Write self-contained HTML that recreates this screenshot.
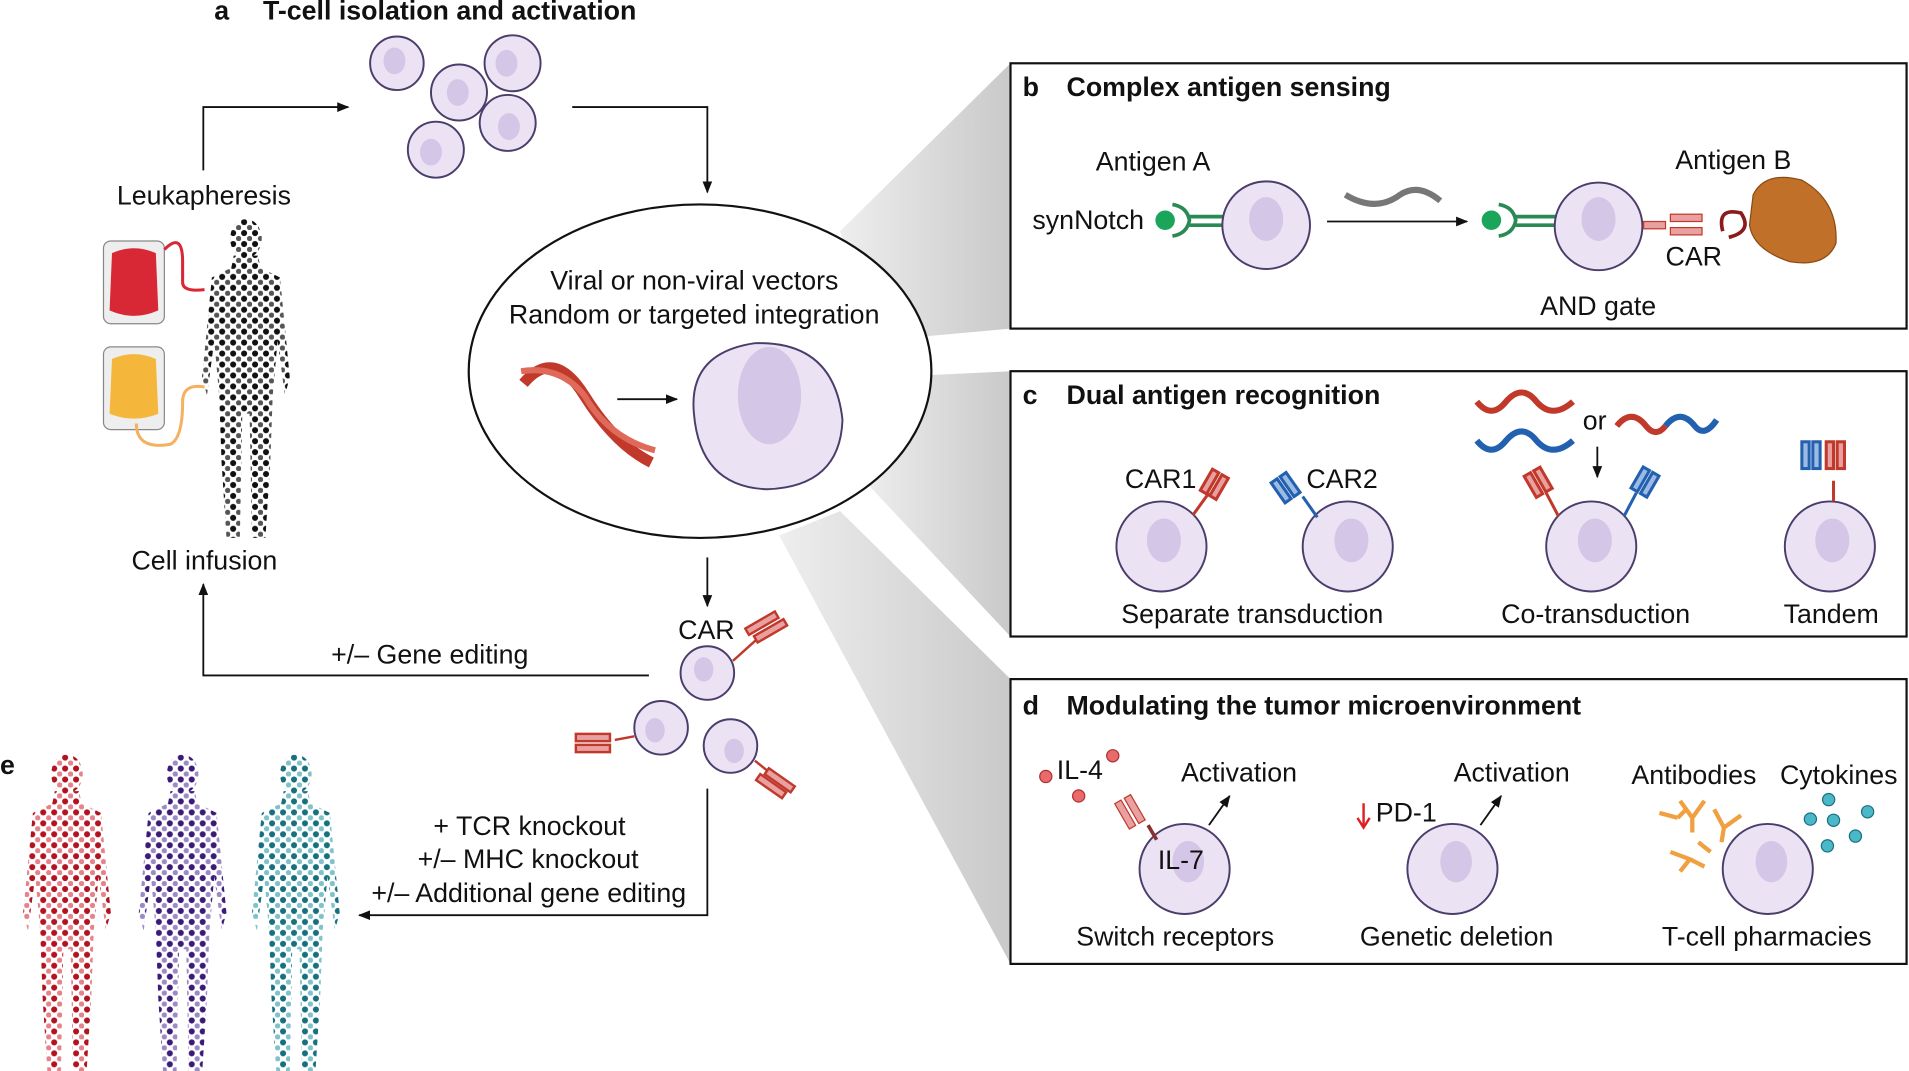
<!DOCTYPE html>
<html><head><meta charset="utf-8"><style>
html,body{margin:0;padding:0;background:#fff;width:1909px;height:1071px;overflow:hidden}
svg{display:block}
text{font-family:"Liberation Sans",Arial,sans-serif;fill:#111}
.t{font-size:22px}
.b{font-size:22px;font-weight:bold}
.cell{fill:#ebe3f3;stroke:#4b3d6b;stroke-width:1.6}
.nuc{fill:#d3c6e6}
.ln{stroke:#111;stroke-width:1.5;fill:none}
</style></head><body>
<svg width="1909" height="1071" viewBox="0 0 1568 880" preserveAspectRatio="none" xmlns="http://www.w3.org/2000/svg">
<defs>
<marker id="ar" markerWidth="10" markerHeight="10" refX="9" refY="5" orient="auto" markerUnits="userSpaceOnUse"><path d="M0,1 L10,5 L0,9 Z" fill="#111"/></marker>
<pattern id="pk" width="9" height="9" patternUnits="userSpaceOnUse"><rect width="9" height="9" fill="#fff"/><circle cx="2.5" cy="2.5" r="2.5" fill="#111"/><circle cx="7" cy="7" r="2.2" fill="#555"/></pattern>
<pattern id="pr" width="9" height="9" patternUnits="userSpaceOnUse"><rect width="9" height="9" fill="#fff"/><circle cx="2.5" cy="2.5" r="2.5" fill="#b3121f"/><circle cx="7" cy="7" r="2.2" fill="#e5828a"/></pattern>
<pattern id="pp" width="9" height="9" patternUnits="userSpaceOnUse"><rect width="9" height="9" fill="#fff"/><circle cx="2.5" cy="2.5" r="2.5" fill="#3b1a78"/><circle cx="7" cy="7" r="2.2" fill="#9b8ac4"/></pattern>
<pattern id="pt" width="9" height="9" patternUnits="userSpaceOnUse"><rect width="9" height="9" fill="#fff"/><circle cx="2.5" cy="2.5" r="2.5" fill="#16707d"/><circle cx="7" cy="7" r="2.2" fill="#7fc2c9"/></pattern>
<linearGradient id="wg" x1="0" x2="1"><stop offset="0" stop-color="#eee"/><stop offset="1" stop-color="#c9c9c9"/></linearGradient>
<g id="hum"><ellipse cx="40" cy="16" rx="13" ry="16"/><path d="M30,30 L50,30 L52,40 L68,48 L76,130 L72,145 L66,100 L62,145 L60,200 L56,262 L45,262 L43,160 L37,160 L35,262 L24,262 L20,200 L18,145 L14,100 L8,145 L4,130 L12,48 L28,40 Z"/></g>
</defs>

<polygon points="690,190 830,52 830,270 720,280" fill="url(#wg)"/>
<polygon points="725,310 830,305 830,523 710,395" fill="url(#wg)"/>
<polygon points="690,420 830,558 830,792 640,440" fill="url(#wg)"/>

<text x="176" y="16" class="b">a</text><text x="216" y="16" class="b">T-cell isolation and activation</text>
<g>
<circle cx="326" cy="52" r="22" class="cell"/><ellipse cx="324" cy="50" rx="9" ry="11" class="nuc"/>
<circle cx="421" cy="52" r="23" class="cell"/><ellipse cx="416" cy="52" rx="9" ry="11" class="nuc"/>
<circle cx="377" cy="76" r="23" class="cell"/><ellipse cx="376" cy="76" rx="9" ry="11" class="nuc"/>
<circle cx="417" cy="101" r="23" class="cell"/><ellipse cx="418" cy="104" rx="9" ry="11" class="nuc"/>
<circle cx="358" cy="123" r="23" class="cell"/><ellipse cx="354" cy="125" rx="9" ry="11" class="nuc"/>
</g>
<path d="M167,140 L167,88 L286,88" class="ln" marker-end="url(#ar)"/>
<path d="M470,88 L581,88 L581,158" class="ln" marker-end="url(#ar)"/>
<text x="96" y="168" class="t">Leukapheresis</text>
<use href="#hum" x="162" y="180" fill="url(#pk)"/>
<rect x="85" y="198" width="50" height="68" rx="6" fill="#eee" stroke="#888"/>
<path d="M92,208 Q110,200 128,208 L130,255 Q110,264 90,255 Z" fill="#d92835"/>
<path d="M135,205 Q150,190 150,215 L150,232 Q150,240 168,238" stroke="#d92835" stroke-width="2.5" fill="none"/>
<rect x="85" y="285" width="50" height="68" rx="6" fill="#eee" stroke="#888"/>
<path d="M92,295 Q110,287 128,295 L130,340 Q110,348 90,340 Z" fill="#f5b73b"/>
<path d="M112,348 Q112,370 140,365 Q150,360 150,330 Q150,315 168,318" stroke="#f5b060" stroke-width="2.5" fill="none"/>
<text x="108" y="468" class="t">Cell infusion</text>
<path d="M533,555 L167,555 L167,480" class="ln" marker-end="url(#ar)"/>
<text x="272" y="545" class="t">+/– Gene editing</text>

<ellipse cx="575" cy="305" rx="190" ry="137" fill="#fff" stroke="#111" stroke-width="1.8"/>
<text x="452" y="238" class="t">Viral or non-viral vectors</text>
<text x="418" y="266" class="t">Random or targeted integration</text>
<path d="M430,315 Q455,285 480,325 Q505,365 535,380" stroke="#c0392b" stroke-width="9" fill="none"/>
<path d="M428,305 Q460,300 480,325 Q500,360 538,370" stroke="#e06a5a" stroke-width="5" fill="none"/>
<path d="M507,328 L556,328" class="ln" marker-end="url(#ar)"/>
<path d="M570,340 Q565,290 620,282 Q685,280 692,345 Q690,400 630,402 Q575,400 570,340Z" class="cell"/>
<ellipse cx="632" cy="325" rx="26" ry="40" class="nuc"/>
<path d="M581,458 L581,498" class="ln" marker-end="url(#ar)"/>
<text x="557" y="525" class="t">CAR</text>
<circle cx="581" cy="553" r="22" class="cell"/><ellipse cx="578" cy="550" rx="8" ry="10" class="nuc"/>
<circle cx="543" cy="598" r="22" class="cell"/><ellipse cx="538" cy="600" rx="8" ry="10" class="nuc"/>
<circle cx="600" cy="613" r="22" class="cell"/><ellipse cx="603" cy="617" rx="8" ry="10" class="nuc"/>
<g stroke="#c0392b" stroke-width="2" fill="#e8a0a0">
<path d="M602,543 L622,525"/><rect x="615" y="513" width="28" height="6" transform="rotate(-30 620 520)"/><rect x="618" y="522" width="28" height="6" transform="rotate(-30 620 520)"/>
<path d="M521,605 L505,608"/><rect x="473" y="603" width="28" height="6"/><rect x="473" y="612" width="28" height="6"/>
<path d="M620,625 L635,637"/><rect x="630" y="632" width="26" height="6" transform="rotate(35 632 634)"/><rect x="627" y="640" width="26" height="6" transform="rotate(35 632 634)"/>
</g>
<path d="M581,648 L581,752 L295,752" class="ln" marker-end="url(#ar)"/>
<text x="356" y="686" class="t">+ TCR knockout</text>
<text x="343" y="713" class="t">+/– MHC knockout</text>
<text x="305" y="741" class="t">+/– Additional gene editing</text>

<text x="0" y="636" class="b">e</text>
<use href="#hum" x="15" y="620" fill="url(#pr)"/>
<use href="#hum" x="110" y="620" fill="url(#pp)"/>
<use href="#hum" x="203" y="620" fill="url(#pt)"/>

<rect x="830" y="52" width="736" height="218" fill="#fff" stroke="#111" stroke-width="1.8"/>
<text x="840" y="79" class="b">b</text><text x="876" y="79" class="b">Complex antigen sensing</text>
<text x="900" y="140" class="t">Antigen A</text>
<text x="848" y="188" class="t">synNotch</text>
<circle cx="957" cy="181" r="8" fill="#1aa55a"/>
<path d="M963,168 Q975,170 977,181 Q975,192 963,194 M977,178 L1005,178 M977,185 L1005,185" stroke="#2a8a55" stroke-width="3" fill="none"/>
<circle cx="1040" cy="185" r="36" class="cell"/><ellipse cx="1040" cy="180" rx="14" ry="18" class="nuc"/>
<path d="M1105,160 Q1130,175 1150,160 Q1165,150 1183,165" stroke="#777" stroke-width="5" fill="none"/>
<path d="M1090,182 L1205,182" class="ln" marker-end="url(#ar)"/>
<circle cx="1225" cy="181" r="8" fill="#1aa55a"/>
<path d="M1231,168 Q1243,170 1245,181 Q1243,192 1231,194 M1245,178 L1278,178 M1245,185 L1278,185" stroke="#2a8a55" stroke-width="3" fill="none"/>
<circle cx="1313" cy="186" r="36" class="cell"/><ellipse cx="1313" cy="180" rx="14" ry="18" class="nuc"/>
<rect x="1350" y="182" width="18" height="6" fill="#e8a0a0" stroke="#c0392b"/>
<rect x="1372" y="176" width="26" height="6" fill="#e8a0a0" stroke="#c0392b"/><rect x="1372" y="187" width="26" height="6" fill="#e8a0a0" stroke="#c0392b"/>
<path d="M1415,190 Q1410,170 1430,175 Q1440,190 1420,195" stroke="#8b1a1a" stroke-width="3" fill="none"/>
<path d="M1440,160 Q1450,140 1480,148 Q1510,165 1508,200 Q1500,220 1470,215 Q1440,205 1437,185 Z" fill="#c07028" stroke="#8a4a14"/>
<text x="1376" y="139" class="t">Antigen B</text>
<text x="1368" y="218" class="t">CAR</text>
<text x="1265" y="259" class="t">AND gate</text>

<rect x="830" y="305" width="736" height="218" fill="#fff" stroke="#111" stroke-width="1.8"/>
<text x="840" y="332" class="b">c</text><text x="876" y="332" class="b">Dual antigen recognition</text>
<g stroke-width="5" fill="none">
<path d="M1213,330 Q1225,345 1237,330 Q1250,315 1262,330 Q1275,345 1292,330" stroke="#c0392b"/>
<path d="M1213,362 Q1225,377 1237,362 Q1250,347 1262,362 Q1275,377 1292,362" stroke="#2360b0"/>
<path d="M1328,350 Q1340,335 1352,350 Q1360,360 1368,350" stroke="#c0392b"/>
<path d="M1368,350 Q1380,335 1392,350 Q1400,360 1410,345" stroke="#2360b0"/>
</g>
<text x="1300" y="353" class="t">or</text>
<path d="M1312,367 L1312,392" class="ln" marker-end="url(#ar)"/>
<text x="924" y="401" class="t">CAR1</text>
<text x="1073" y="401" class="t">CAR2</text>
<circle cx="954" cy="449" r="37" class="cell"/><ellipse cx="956" cy="444" rx="14" ry="18" class="nuc"/>
<circle cx="1107" cy="449" r="37" class="cell"/><ellipse cx="1110" cy="444" rx="14" ry="18" class="nuc"/>
<circle cx="1307" cy="449" r="37" class="cell"/><ellipse cx="1310" cy="444" rx="14" ry="18" class="nuc"/>
<circle cx="1503" cy="449" r="37" class="cell"/><ellipse cx="1505" cy="444" rx="14" ry="18" class="nuc"/>
<g stroke-width="2.5">
<path d="M980,423 L993,405" stroke="#c0392b"/><rect x="988" y="385" width="6" height="20" fill="#e8a0a0" stroke="#c0392b" transform="rotate(30 991 400)"/><rect x="997" y="385" width="6" height="20" fill="#e8a0a0" stroke="#c0392b" transform="rotate(30 991 400)"/>
<path d="M1082,425 L1070,408" stroke="#2360b0"/><rect x="1052" y="388" width="6" height="20" fill="#9bbbe5" stroke="#2360b0" transform="rotate(-35 1062 405)"/><rect x="1061" y="388" width="6" height="20" fill="#9bbbe5" stroke="#2360b0" transform="rotate(-35 1062 405)"/>
<path d="M1280,424 L1270,405" stroke="#c0392b"/><rect x="1258" y="386" width="6" height="20" fill="#e8a0a0" stroke="#c0392b" transform="rotate(-30 1265 400)"/><rect x="1267" y="386" width="6" height="20" fill="#e8a0a0" stroke="#c0392b" transform="rotate(-30 1265 400)"/>
<path d="M1334,424 L1344,405" stroke="#2360b0"/><rect x="1341" y="384" width="6" height="20" fill="#9bbbe5" stroke="#2360b0" transform="rotate(30 1346 400)"/><rect x="1350" y="384" width="6" height="20" fill="#9bbbe5" stroke="#2360b0" transform="rotate(30 1346 400)"/>
<path d="M1506,412 L1506,395" stroke="#c0392b"/>
<rect x="1480" y="363" width="6" height="22" fill="#9bbbe5" stroke="#2360b0"/><rect x="1489" y="363" width="6" height="22" fill="#9bbbe5" stroke="#2360b0"/>
<rect x="1500" y="363" width="6" height="22" fill="#e8a0a0" stroke="#c0392b"/><rect x="1509" y="363" width="6" height="22" fill="#e8a0a0" stroke="#c0392b"/>
</g>
<text x="921" y="512" class="t">Separate transduction</text>
<text x="1233" y="512" class="t">Co-transduction</text>
<text x="1465" y="512" class="t">Tandem</text>

<rect x="830" y="558" width="736" height="234" fill="#fff" stroke="#111" stroke-width="1.8"/>
<text x="840" y="587" class="b">d</text><text x="876" y="587" class="b">Modulating the tumor microenvironment</text>
<circle cx="859" cy="638" r="5" fill="#e86a6a" stroke="#b03030"/>
<circle cx="914" cy="621" r="5" fill="#e86a6a" stroke="#b03030"/>
<circle cx="886" cy="654" r="5" fill="#e86a6a" stroke="#b03030"/>
<text x="868" y="640" class="t">IL-4</text>
<text x="970" y="642" class="t">Activation</text>
<path d="M993,678 L1010,654" class="ln" marker-end="url(#ar)"/>
<circle cx="973" cy="714" r="37" class="cell"/><ellipse cx="976" cy="708" rx="13" ry="17" class="nuc"/>
<path d="M950,690 L943,678" stroke="#8b3030" stroke-width="3"/>
<rect x="923" y="652" width="6" height="24" fill="#e8a0a0" stroke="#c0392b" transform="rotate(-30 935 670)"/><rect x="932" y="652" width="6" height="24" fill="#e8a0a0" stroke="#c0392b" transform="rotate(-30 935 670)"/>
<text x="951" y="714" class="t">IL-7</text>
<text x="884" y="777" class="t">Switch receptors</text>
<path d="M1120,660 L1120,680" stroke="#e02020" stroke-width="2"/>
<path d="M1115,672 L1120,680 L1125,672" stroke="#e02020" stroke-width="2" fill="none"/>
<text x="1130" y="675" class="t">PD-1</text>
<text x="1194" y="642" class="t">Activation</text>
<path d="M1216,678 L1233,654" class="ln" marker-end="url(#ar)"/>
<circle cx="1193" cy="714" r="37" class="cell"/><ellipse cx="1196" cy="708" rx="13" ry="17" class="nuc"/>
<text x="1117" y="777" class="t">Genetic deletion</text>
<text x="1340" y="644" class="t">Antibodies</text>
<text x="1462" y="644" class="t">Cytokines</text>
<g stroke="#f0a040" stroke-width="3.5" fill="none">
<path d="M1380,658 L1390,672 L1400,658 M1390,672 L1390,684"/>
<path d="M1363,668 L1378,672 M1378,672 L1385,665"/>
<path d="M1408,665 L1416,680 L1430,670 M1416,680 L1414,692"/>
<path d="M1372,700 L1388,706 L1380,716 M1388,706 L1400,712"/>
<path d="M1395,692 L1405,700"/>
</g>
<circle cx="1452" cy="714" r="37" class="cell"/><ellipse cx="1455" cy="708" rx="13" ry="17" class="nuc"/>
<g fill="#4bb8c8" stroke="#1a7080">
<circle cx="1502" cy="657" r="5"/><circle cx="1487" cy="673" r="5"/><circle cx="1506" cy="674" r="5"/><circle cx="1534" cy="667" r="5"/><circle cx="1524" cy="687" r="5"/><circle cx="1501" cy="695" r="5"/>
</g>
<text x="1365" y="777" class="t">T-cell pharmacies</text>
</svg>
</body></html>
